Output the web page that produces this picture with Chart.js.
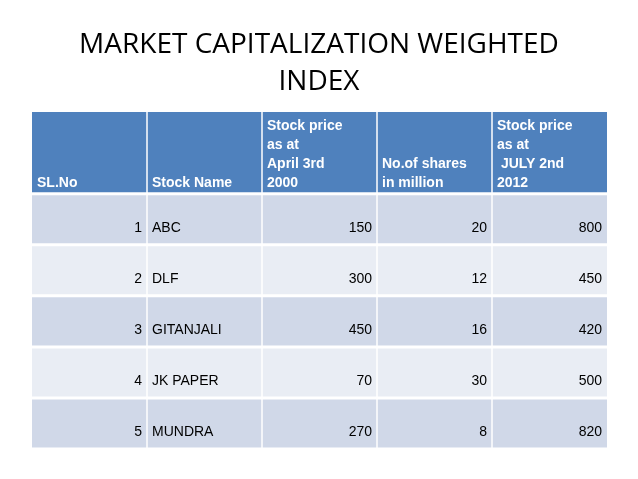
<!DOCTYPE html>
<html>
<head>
<meta charset="utf-8">
<script src="https://cdn.jsdelivr.net/npm/chart.js@4"></script>
<style>
  html, body { margin: 0; padding: 0; background: #fff; }
  #wrap { width: 638px; height: 479px; }
</style>
</head>
<body>
<div id="wrap"><canvas id="tableChart" width="638" height="479"></canvas></div>
<script>
const titleLines = ['MARKET CAPITALIZATION WEIGHTED', 'INDEX'];
const headers = [
    ['SL.No'],
    ['Stock Name'],
    ['Stock price', 'as at', 'April 3rd', '2000'],
    ['No.of shares', 'in million'],
    ['Stock price', 'as at', ' JULY 2nd', '2012']
];
const slNo = [1, 2, 3, 4, 5];
const stockNames = ['ABC', 'DLF', 'GITANJALI', 'JK PAPER', 'MUNDRA'];
const price2000 = [150, 300, 450, 70, 270];
const shares = [20, 12, 16, 30, 8];
const price2012 = [800, 450, 420, 500, 820];

const HEADER_ROWS = 1.6; // header is ~1.6 data rows tall
const columns = [slNo, stockNames, price2000, shares, price2012];
const rightAligned = [true, false, true, true, true];

const tablePlugin = {
    id: 'tableDraw',
    afterDraw(chart) {
        const ctx = chart.ctx;
        const x = chart.scales.x, y = chart.scales.y;
        ctx.save();

        // title
        ctx.fillStyle = '#000';
        ctx.font = '28px "Open Sans", sans-serif';
        ctx.textAlign = 'center';
        ctx.textBaseline = 'alphabetic';
        ctx.fillText(titleLines[0], 319, 53);
        ctx.fillText(titleLines[1], 319, 90);

        // header
        const hx0 = x.getPixelForValue(0), hx1 = x.getPixelForValue(5);
        const hy0 = y.getPixelForValue(0), hy1 = y.getPixelForValue(HEADER_ROWS);
        ctx.fillStyle = '#4f81bd';
        ctx.fillRect(hx0, hy0, hx1 - hx0, hy1 - hy0);
        ctx.font = 'bold 14px "Liberation Sans", Arial, sans-serif';
        ctx.fillStyle = '#fff';
        ctx.textAlign = 'left';
        headers.forEach((lines, c) => {
            const left = x.getPixelForValue(c) + 5;
            lines.forEach((t, i) => {
                ctx.fillText(t, left, hy1 - 7 - (lines.length - 1 - i) * 19);
            });
        });

        // rows
        ctx.font = '14px "Liberation Sans", Arial, sans-serif';
        for (let r = 0; r < slNo.length; r++) {
            const ry0 = y.getPixelForValue(HEADER_ROWS + r);
            const ry1 = y.getPixelForValue(HEADER_ROWS + r + 1);
            ctx.fillStyle = r % 2 === 0 ? '#d0d8e8' : '#e9edf4';
            ctx.fillRect(hx0, ry0, hx1 - hx0, ry1 - ry0);
            ctx.fillStyle = '#000';
            columns.forEach((col, c) => {
                const left = x.getPixelForValue(c), right = x.getPixelForValue(c + 1);
                if (rightAligned[c]) {
                    ctx.textAlign = 'right';
                    ctx.fillText(String(col[r]), right - 5, ry1 - 13);
                } else {
                    ctx.textAlign = 'left';
                    ctx.fillText(String(col[r]), left + 5, ry1 - 13);
                }
            });
        }

        // white grid lines
        ctx.strokeStyle = '#fff';
        ctx.lineWidth = 1.5;
        const bottom = y.getPixelForValue(HEADER_ROWS + slNo.length);
        for (let c = 1; c < 5; c++) {
            const px = x.getPixelForValue(c);
            ctx.beginPath(); ctx.moveTo(px, hy0); ctx.lineTo(px, bottom); ctx.stroke();
        }
        ctx.lineWidth = 3;
        for (let r = 0; r <= slNo.length; r++) {
            const py = y.getPixelForValue(HEADER_ROWS + r);
            ctx.beginPath(); ctx.moveTo(hx0, py); ctx.lineTo(hx1, py); ctx.stroke();
        }
        ctx.restore();
    }
};

new Chart(document.getElementById('tableChart').getContext('2d'), {
    type: 'scatter',
    data: { datasets: [{ data: [] }] },
    options: {
        responsive: false,
        animation: false,
        layout: { padding: { left: 32, right: 31, top: 112, bottom: 30 } },
        plugins: { legend: { display: false }, tooltip: { enabled: false } },
        scales: {
            x: { type: 'linear', display: false, min: 0, max: 5 },
            y: { type: 'linear', display: false, reverse: true, min: 0, max: HEADER_ROWS + slNo.length }
        }
    },
    plugins: [tablePlugin]
});
</script>
</body>
</html>
